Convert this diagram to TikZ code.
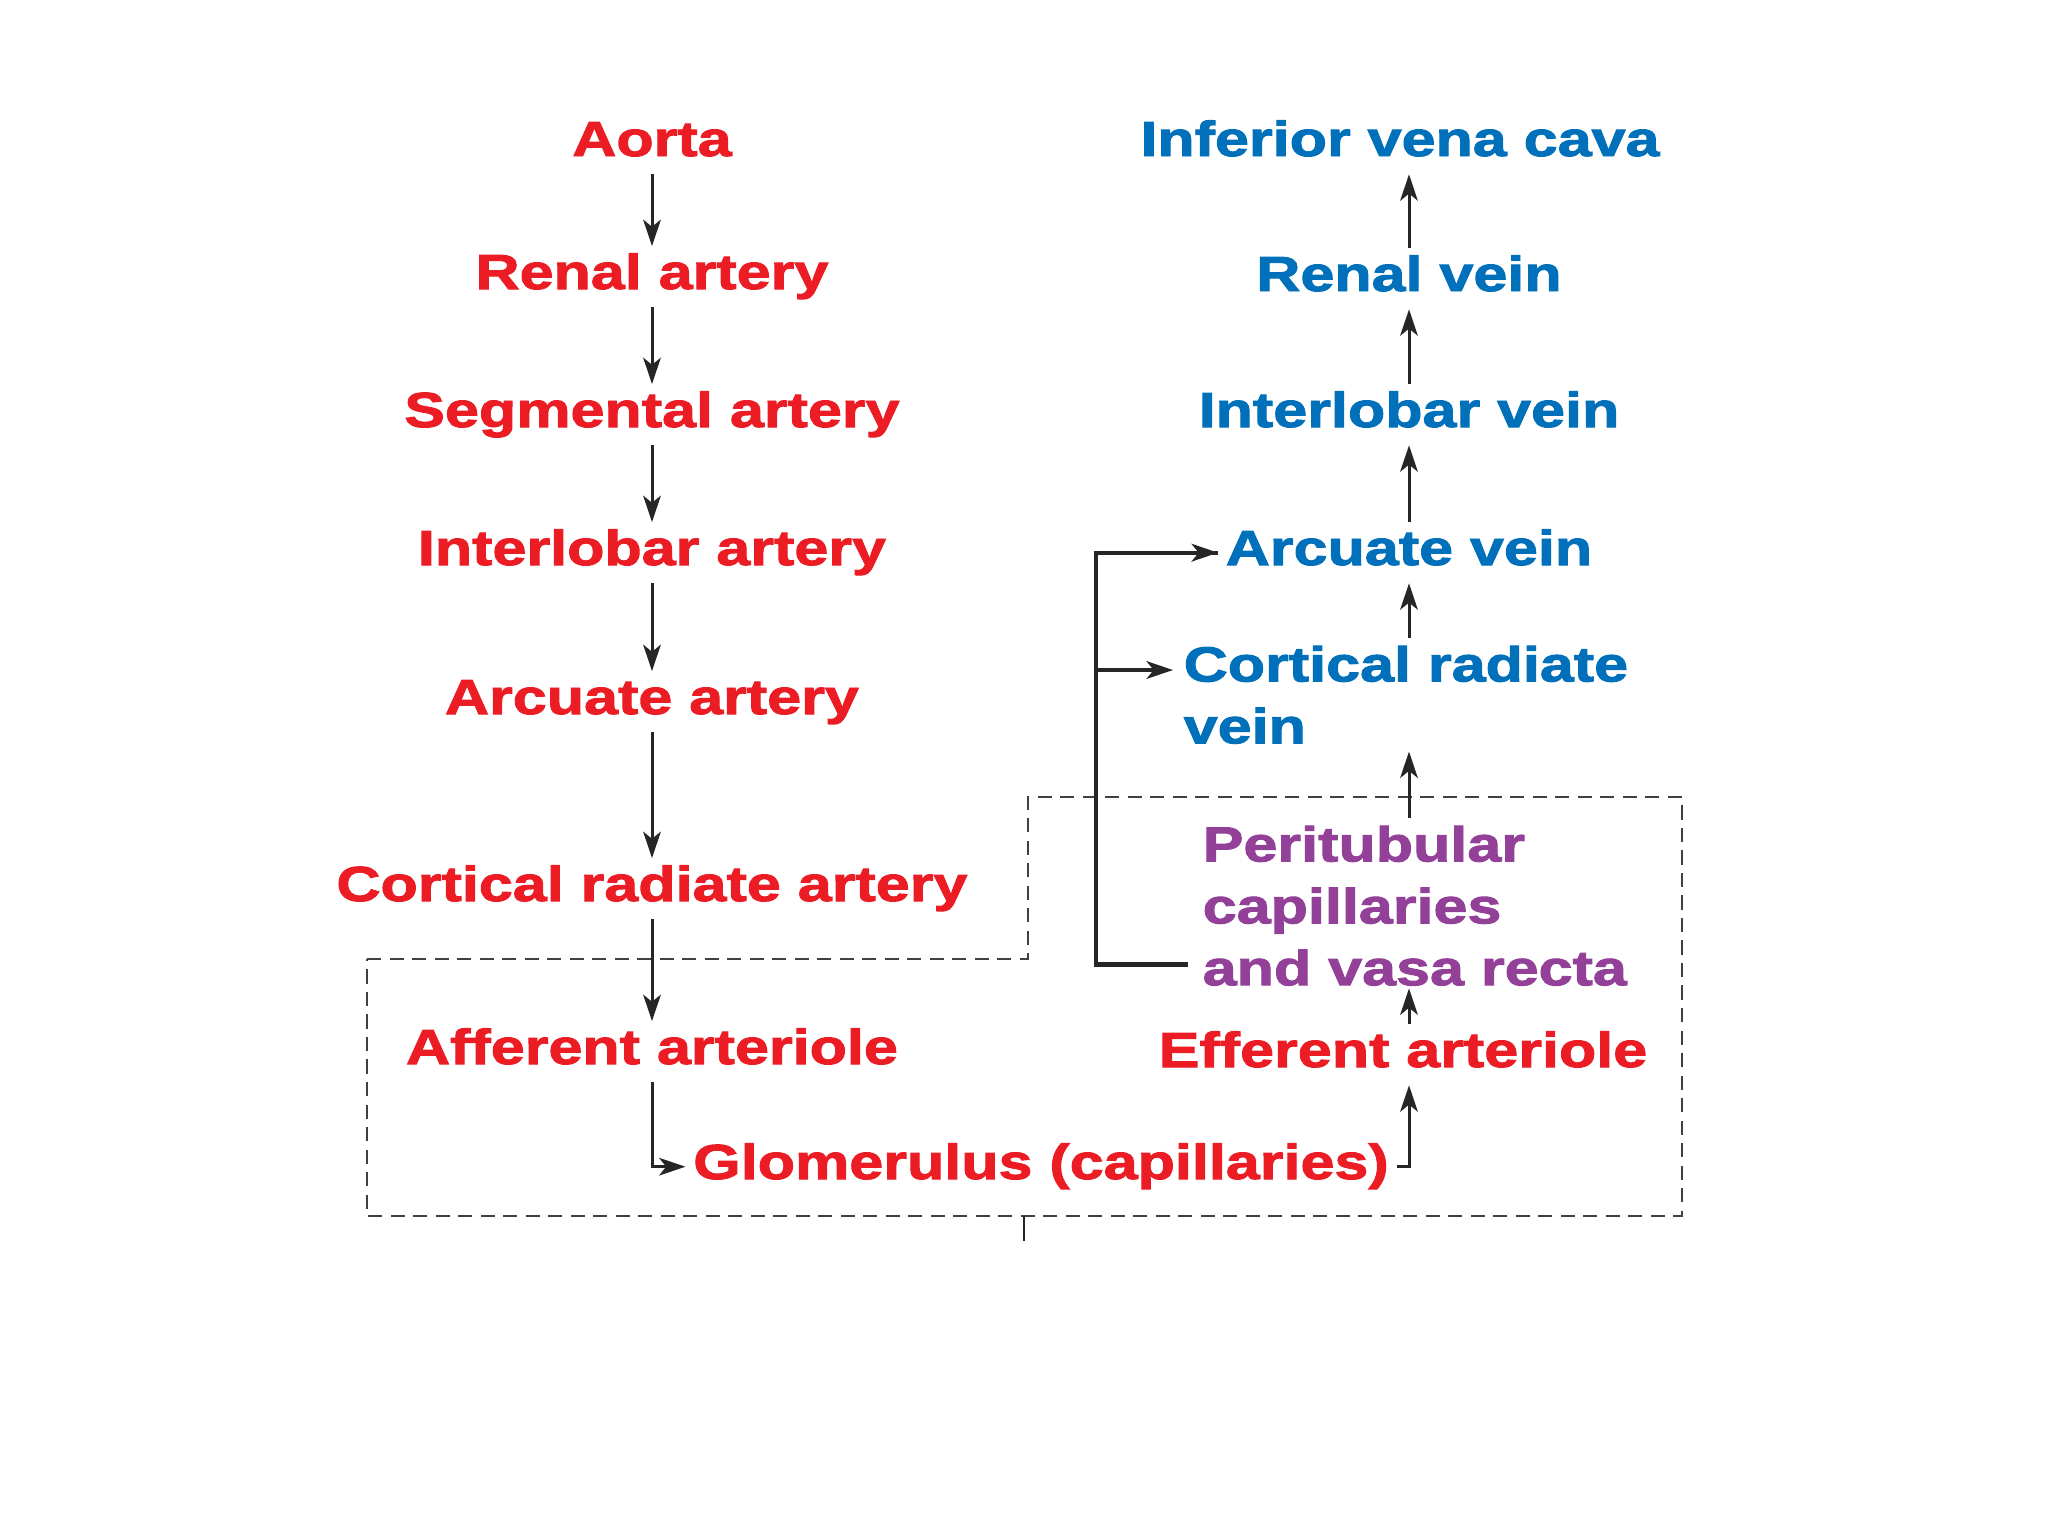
\documentclass[tikz,border=0pt]{standalone}
\usepackage{fontspec}
\usepackage{xcolor}
\usetikzlibrary{arrows.meta}
\newfontfamily\lblfont{Liberation Sans}[FakeStretch=1.24,BoldFeatures={FakeBold=2}]
\definecolor{artR}{RGB}{236, 28, 36}
\definecolor{venB}{RGB}{  0,112,186}
\definecolor{capP}{RGB}{146, 64,152}

\begin{document}
\begin{tikzpicture}[
  x=0.01cm, y=-0.01cm,
  lbl/.style={
    font=\lblfont\bfseries\fontsize{14}{17.6}\selectfont,
    inner sep=2pt, text height=10pt, text depth=3pt, anchor=base
  },
  blk/.style={
    font=\lblfont\bfseries\fontsize{14}{17.6}\selectfont,
    inner sep=2pt, align=left, anchor=north west
  },
  flow/.style={draw=black!85, line width=0.85pt, -{Stealth[length=7.5pt,width=5pt,inset=2pt]}},
  pipe/.style={draw=black!85, line width=1.2pt},
  zone/.style={draw=black!75, line width=0.7pt, dash pattern=on 4pt off 2.4pt}
]
\useasboundingbox (0,0) rectangle (2048,1536);

\draw[zone] (367,959) -- (1028,959) -- (1028,797) -- (1682,797)
  -- (1682,1216) -- (367,1216) -- cycle;
\draw[draw=black!85, line width=0.6pt] (1024,1216) -- (1024,1241);

\node[lbl, text=artR] (ao) at (652,156)  {Aorta};
\node[lbl, text=artR] (ra) at (652,289)  {Renal artery};
\node[lbl, text=artR] (sa) at (652,427)  {Segmental artery};
\node[lbl, text=artR] (ia) at (652,565)  {Interlobar artery};
\node[lbl, text=artR] (aa) at (652,714)  {Arcuate artery};
\node[lbl, text=artR] (ca) at (652,901)  {Cortical radiate artery};
\node[lbl, text=artR] (af) at (652,1064) {Afferent arteriole};
\node[lbl, text=artR] (gl) at (1041,1179) {Glomerulus (capillaries)};
\node[lbl, text=artR] (ef) at (1403,1067) {Efferent arteriole};

\node[blk, text=capP] (pc) at (1195,818) {Peritubular\\capillaries\\and vasa recta};
\node[blk, text=venB] (crv) at (1176,638) {Cortical radiate\\vein};
\node[lbl, text=venB] (av) at (1409,565) {Arcuate vein};
\node[lbl, text=venB] (iv) at (1409,427) {Interlobar vein};
\node[lbl, text=venB] (rv) at (1409,291) {Renal vein};
\node[lbl, text=venB] (ivc) at (1400,156) {Inferior vena cava};

\coordinate (col) at (1409,0);
\coordinate (jx) at (1096,0);
\coordinate (tap) at ([xshift=-0.07cm,yshift=0.29cm]pc.south west);
\coordinate (pcfoot) at (tap -| col);
\coordinate (pcin) at ([yshift=-0.24cm]pcfoot);
\coordinate (crvin) at ([xshift=-0.03cm,yshift=-0.32cm]crv.north west);

\draw[flow] (ao) -- (ao |- ra.north);
\draw[flow] (ra) -- (ra |- sa.north);
\draw[flow] (sa) -- (sa |- ia.north);
\draw[flow] (ia) -- (ia |- aa.north);
\draw[flow] (aa) -- (aa |- ca.north);
\draw[flow] (ca) -- (ca |- af.north);
\draw[flow] (af.south) |- (gl.west);
\draw[flow] (gl.east) -| (col |- ef.south);
\draw[flow] (col |- ef.north) -- (pcin);
\draw[flow] (pc.north -| col) -- (crv.south -| col);
\draw[flow] (crv.north -| col) -- (av.south);
\draw[flow] (av) -- (iv);
\draw[flow] (iv) -- (rv);
\draw[flow] (rv.north) -- (rv.north |- ivc.south);

\draw[pipe] (tap) -- (tap -| jx) |- (av.west);
\draw[flow, line width=1.2pt] (jx |- crvin) -- (crvin);
\draw[flow, line width=1.2pt] (jx |- av.west) -- (av.west);
\end{tikzpicture}
\end{document}
